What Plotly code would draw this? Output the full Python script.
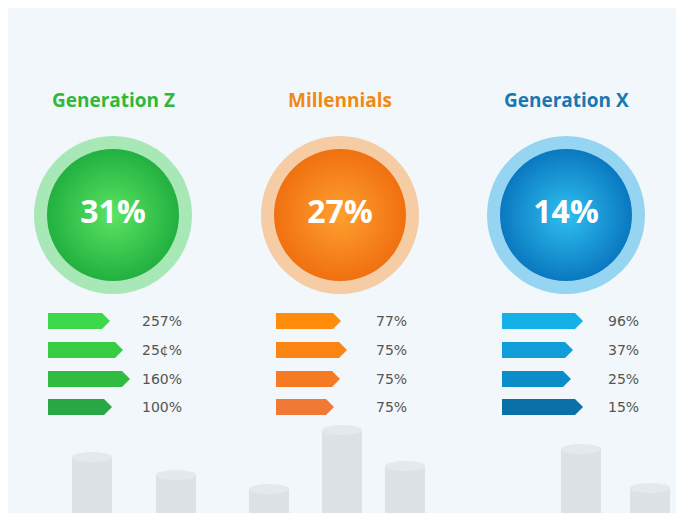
import plotly.graph_objects as go

groups = ["Generation Z", "Millennials", "Generation X"]
shares = ["31%", "27%", "14%"]
title_colors = ["#2fb83a", "#f08a12", "#1a78b0"]
ring_colors = ["rgba(80,210,100,0.45)", "rgba(250,150,60,0.45)", "rgba(40,170,230,0.45)"]
inner_light = ["#5ae462", "#ffa030", "#30c0f0"]
inner_dark = ["#22b040", "#f07010", "#0a78c0"]
centers_x = [113, 340, 566]

bar_labels = [["257%", "25¢%", "160%", "100%"],
              ["77%", "75%", "75%", "75%"],
              ["96%", "37%", "25%", "15%"]]
bar_lengths = [[62, 75, 82, 64], [65, 71, 64, 58], [81, 71, 69, 81]]
bar_colors = [["#3ed94a", "#38cc45", "#30bb42", "#2aa845"],
              ["#ff8c0a", "#fa8414", "#f57a22", "#f07a35"],
              ["#14b0e8", "#109ed8", "#0c8cc8", "#0a70a8"]]
bar_starts = [48, 276, 502]
label_x = [140, 374, 606]
rows_y = [321, 350, 379, 407]

cyl_x = [92, 176, 269, 342, 405, 581, 650]
cyl_top = [452, 470, 484, 425, 461, 444, 483]

fig = go.Figure()

for cx, top in zip(cyl_x, cyl_top):
    w = 20
    fig.add_trace(go.Scatter(x=[cx-w, cx-w, cx+w, cx+w, cx-w], y=[530, top+5, top+5, 530, 530],
                             fill="toself", fillcolor="#dde2e6", line=dict(width=0),
                             mode="lines", hoverinfo="skip", showlegend=False))
    fig.add_shape(type="circle", xref="x", yref="y", x0=cx-w, x1=cx+w, y0=top, y1=top+10,
                  fillcolor="#e6e9ec", line=dict(width=0), layer="above")

fig.add_trace(go.Scatter(x=centers_x, y=[215]*3, mode="markers",
                         marker=dict(size=158, color=ring_colors, line=dict(width=0)),
                         hoverinfo="skip", showlegend=False))
for i in range(3):
    fig.add_trace(go.Scatter(x=[centers_x[i]], y=[215], mode="markers+text", text=["<b>%s</b>" % shares[i]],
                             textposition="middle center",
                             textfont=dict(size=32, color="white", family="Open Sans"),
                             marker=dict(size=132, color=inner_dark[i],
                                         gradient=dict(type="radial", color=inner_light[i]),
                                         line=dict(width=0)),
                             hoverinfo="skip", showlegend=False))
    fig.add_annotation(x=centers_x[i], y=100, text="<b>%s</b>" % groups[i], showarrow=False,
                       font=dict(size=19, color=title_colors[i], family="Open Sans"))

h = 8
for g in range(3):
    x0 = bar_starts[g]
    for r in range(4):
        L = bar_lengths[g][r]
        y = rows_y[r]
        xe = x0 + L
        fig.add_trace(go.Scatter(x=[x0, xe-8, xe, xe-8, x0, x0], y=[y-h, y-h, y, y+h, y+h, y-h],
                                 fill="toself", fillcolor=bar_colors[g][r], line=dict(width=0),
                                 mode="lines", hoverinfo="skip", showlegend=False))
        fig.add_annotation(x=label_x[g], y=y, text=bar_labels[g][r], showarrow=False, xanchor="left",
                           font=dict(size=14, color="#555", family="DejaVu Sans"))

fig.update_layout(width=684, height=513, margin=dict(l=0, r=0, t=0, b=0),
                  paper_bgcolor="#f1f7fa", plot_bgcolor="#f1f7fa",
                  xaxis=dict(range=[8, 692], visible=False, fixedrange=True),
                  yaxis=dict(range=[521, 8], visible=False, fixedrange=True))
fig.write_html("out.html")
